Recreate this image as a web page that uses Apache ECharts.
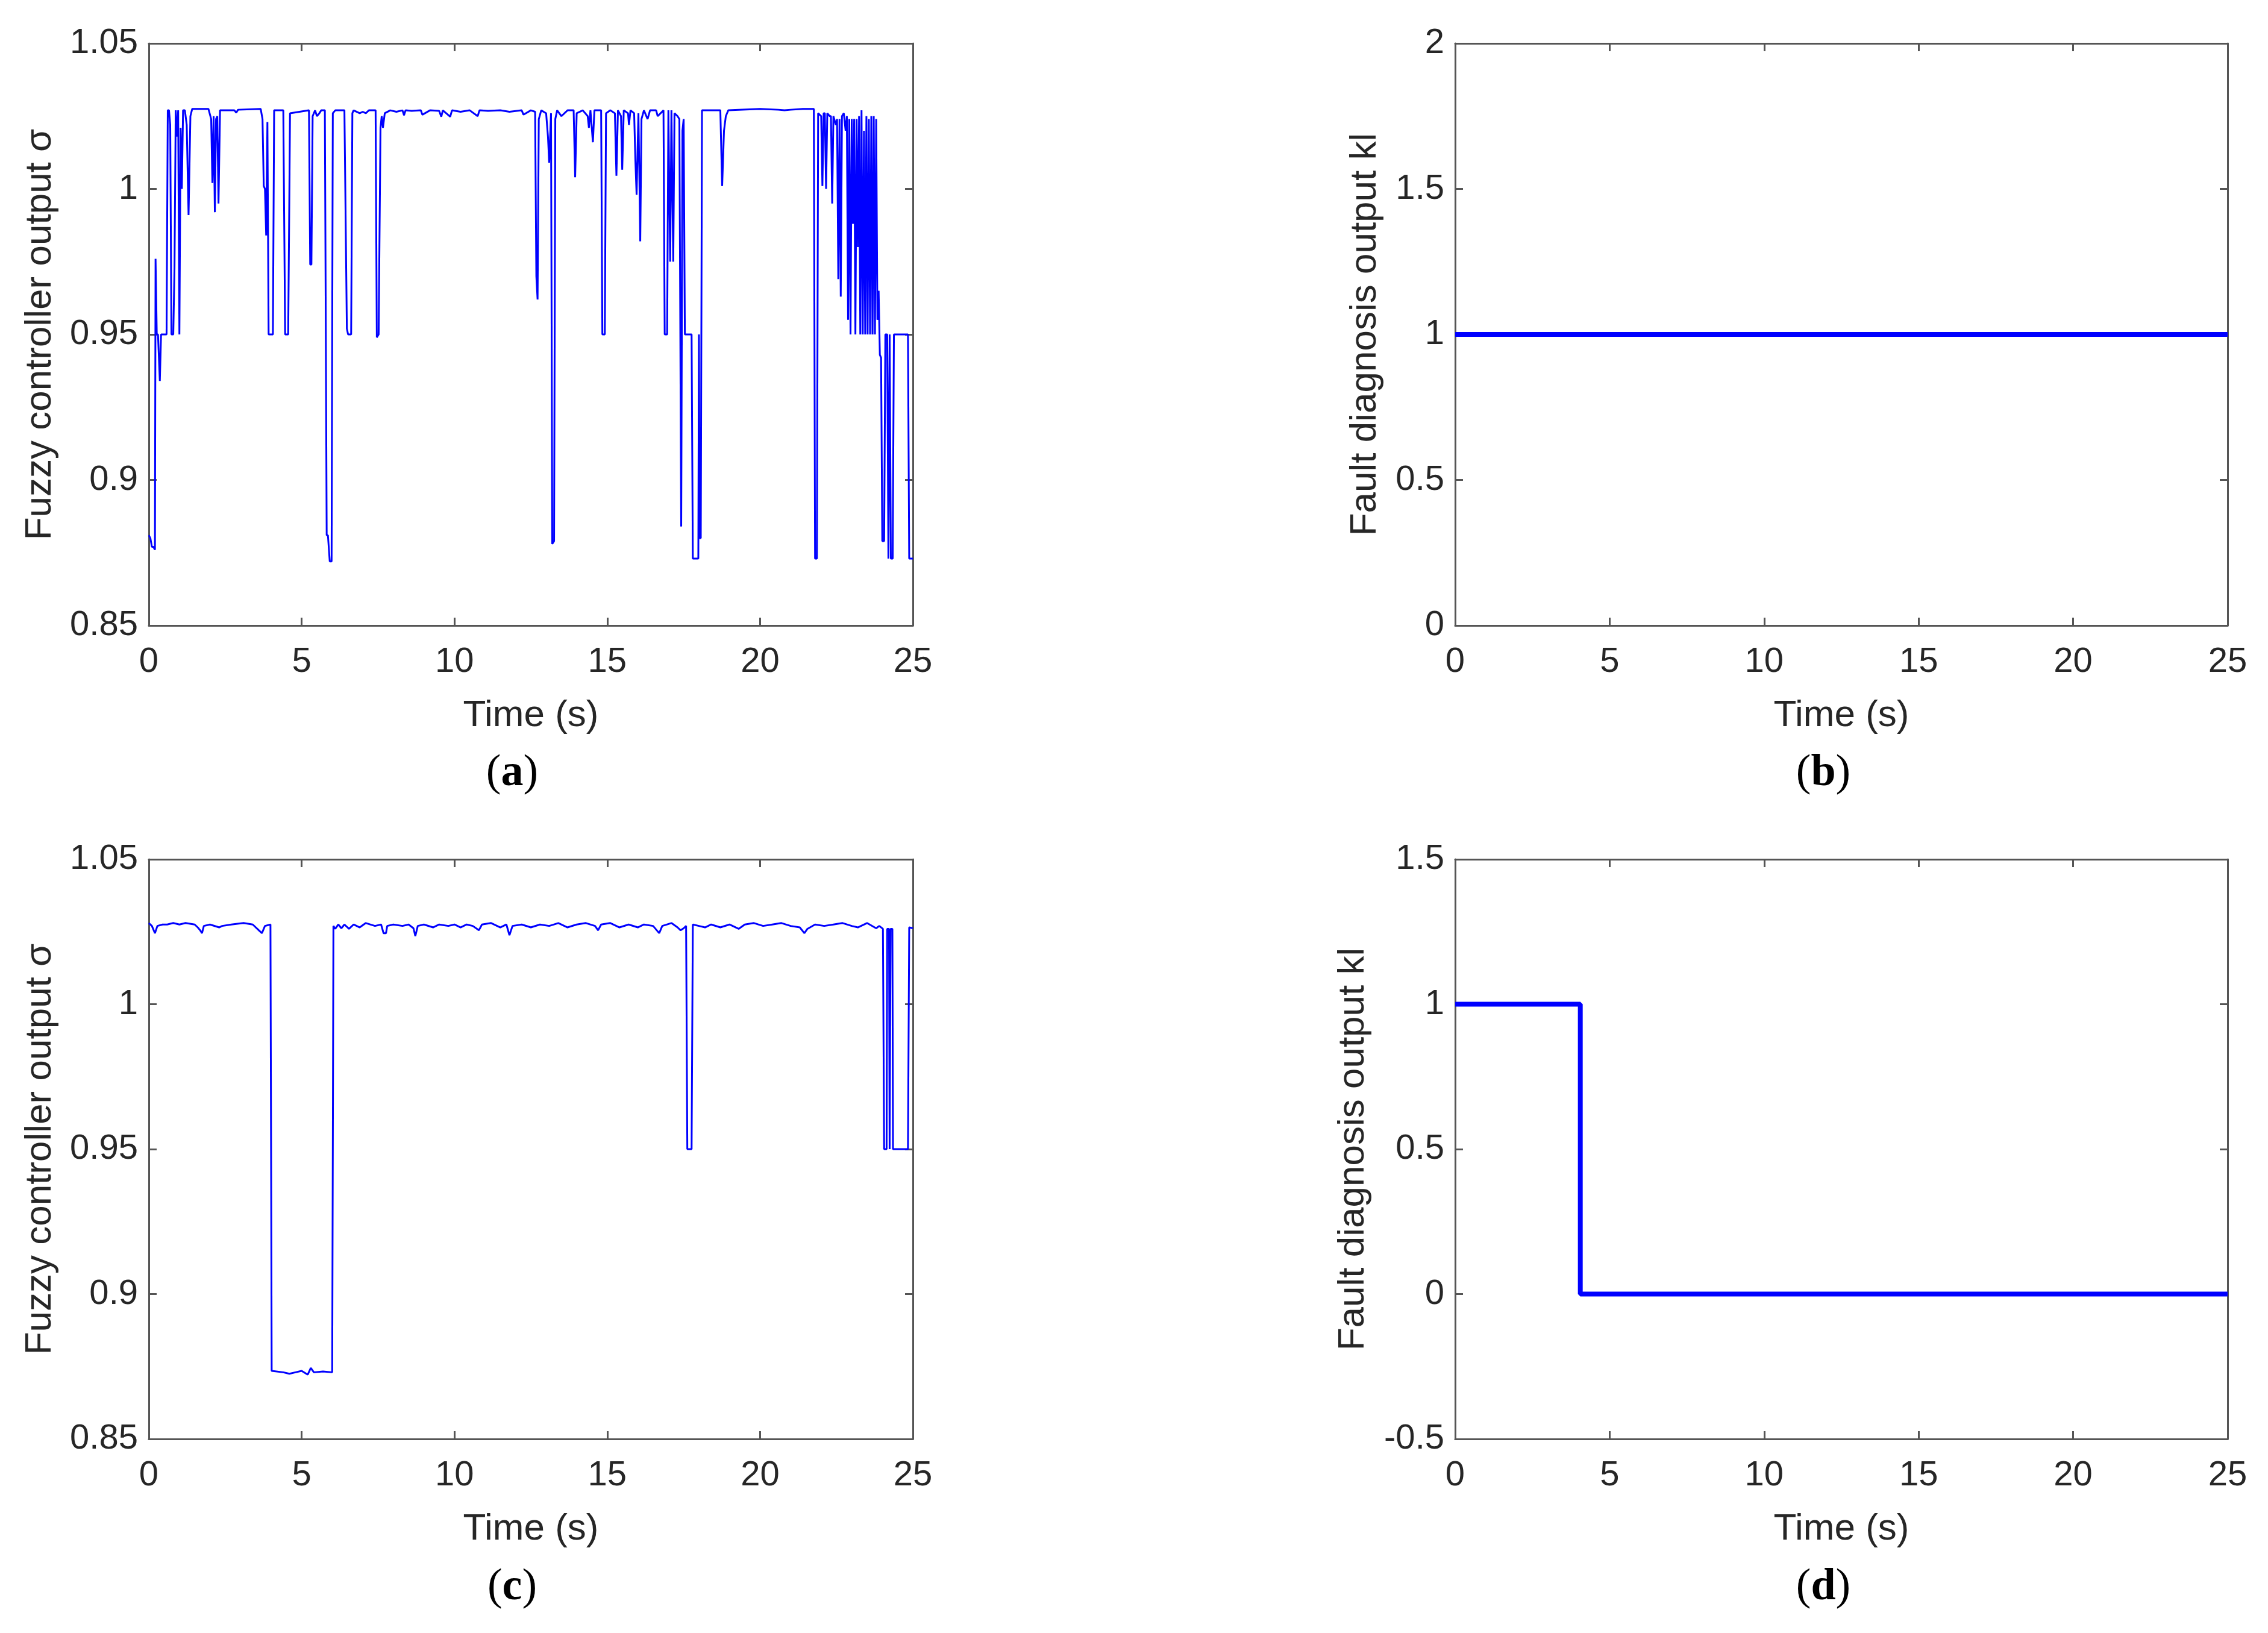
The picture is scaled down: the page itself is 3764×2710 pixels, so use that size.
<!DOCTYPE html>
<html>
<head>
<meta charset="utf-8">
<script src="https://cdn.jsdelivr.net/npm/echarts@6/dist/echarts.min.js"></script>
<style>
html,body{margin:0;padding:0;background:#fff;}
#chart{width:3764px;height:2710px;}
</style>
</head>
<body>
<div id="chart"></div>
<script>
// ---------- DATA ----------
// Panel (a): fuzzy controller output sigma, normal case
var timeA = [0.00,0.05,0.10,0.15,0.20,0.22,0.26,0.30,0.36,0.40,0.58,0.62,0.66,0.70,0.74,0.80,0.84,0.88,0.92,0.96,1.00,1.04,1.08,1.12,1.18,1.24,1.30,1.36,1.42,1.95,2.04,2.08,2.12,2.16,2.20,2.24,2.28,2.33,2.80,2.86,2.92,3.66,3.72,3.76,3.80,3.84,3.88,3.92,4.06,4.10,4.40,4.46,4.56,4.62,5.24,5.28,5.32,5.36,5.44,5.50,5.58,5.64,5.76,5.82,5.86,5.92,5.98,6.02,6.10,6.40,6.48,6.52,6.62,6.66,6.70,6.90,7.00,7.10,7.20,7.42,7.46,7.52,7.58,7.62,7.66,7.72,7.90,8.10,8.30,8.35,8.40,8.60,8.90,8.95,9.20,9.50,9.57,9.62,9.86,9.92,10.20,10.50,10.76,10.82,11.10,11.50,11.80,12.20,12.26,12.50,12.64,12.68,12.72,12.76,12.84,13.00,13.06,13.10,13.16,13.20,13.26,13.30,13.36,13.50,13.70,13.90,13.95,14.00,14.20,14.36,14.40,14.45,14.53,14.58,14.80,14.84,14.92,14.96,15.10,15.25,15.30,15.35,15.45,15.49,15.54,15.68,15.71,15.76,15.88,15.92,15.96,16.02,16.06,16.08,16.12,16.20,16.32,16.40,16.60,16.65,16.84,16.88,16.96,17.00,17.06,17.10,17.16,17.20,17.30,17.36,17.42,17.46,17.50,17.54,17.76,17.80,17.98,18.00,18.02,18.06,18.10,18.70,18.76,18.82,18.88,18.96,20.00,20.60,20.80,21.00,21.40,21.76,21.80,21.86,21.90,22.00,22.04,22.08,22.12,22.16,22.20,22.28,22.32,22.36,22.40,22.48,22.52,22.56,22.60,22.64,22.68,22.74,22.80,22.84,22.88,22.92,22.96,23.00,23.04,23.08,23.12,23.16,23.20,23.24,23.28,23.32,23.36,23.40,23.44,23.48,23.52,23.56,23.60,23.64,23.68,23.72,23.76,23.80,23.84,23.88,23.92,23.96,24.00,24.06,24.10,24.16,24.20,24.24,24.28,24.34,24.38,24.84,24.88,25.00];
var sigmaA = [0.881,0.880,0.877,0.877,0.876,0.976,0.950,0.950,0.934,0.950,0.950,1.027,1.027,1.022,0.950,0.950,0.973,1.027,1.018,1.027,0.950,1.021,1.000,1.027,1.027,1.022,0.991,1.025,1.0275,1.0275,1.024,1.002,1.025,0.992,1.024,1.025,0.995,1.027,1.027,1.0262,1.0272,1.0275,1.024,1.001,1.000,0.984,1.023,0.950,0.950,1.027,1.027,0.950,0.950,1.026,1.027,0.974,0.974,1.025,1.027,1.025,1.026,1.027,1.027,0.881,0.881,0.872,0.872,1.026,1.027,1.027,0.952,0.950,0.950,1.026,1.027,1.026,1.0265,1.026,1.027,1.027,0.949,0.950,1.021,1.025,1.021,1.026,1.027,1.0265,1.027,1.0253,1.027,1.0268,1.027,1.0255,1.027,1.0268,1.0248,1.027,1.0248,1.027,1.0265,1.027,1.0250,1.027,1.0268,1.027,1.0265,1.027,1.0255,1.027,1.0265,0.970,0.962,1.024,1.027,1.026,1.018,1.009,1.026,0.878,0.879,1.024,1.027,1.025,1.027,1.027,1.004,1.026,1.027,1.025,1.021,1.027,1.016,1.027,1.027,0.950,0.950,1.026,1.027,1.026,1.0045,1.027,1.025,1.0066,1.027,1.026,1.022,1.027,1.026,1.010,0.998,1.026,0.998,0.982,1.024,1.027,1.024,1.027,1.027,1.025,1.027,0.950,0.950,1.027,0.975,1.027,0.975,1.026,1.025,1.024,0.884,1.020,1.024,0.950,0.950,0.873,0.873,0.950,0.880,0.880,1.027,1.027,1.001,1.020,1.025,1.027,1.0275,1.0272,1.027,1.0272,1.0275,1.0275,0.873,0.873,1.026,1.025,1.001,1.026,1.026,1.000,1.026,1.025,1.025,0.995,1.025,1.022,1.024,0.969,1.024,0.963,1.025,1.026,1.020,1.025,0.955,1.024,0.950,1.024,0.988,1.024,0.950,1.024,0.980,1.025,0.950,1.027,0.950,1.020,0.950,1.025,0.950,1.024,0.950,1.025,0.950,1.025,0.950,1.024,0.955,0.965,0.943,0.942,0.879,0.879,0.950,0.950,0.873,0.950,0.873,0.873,0.950,0.950,0.873,0.873];

// Panel (b): fault diagnosis output kl, normal case
var timeB = [0, 25];
var klB = [1, 1];

// Panel (c): fuzzy controller output sigma, fault case
var timeC = [0.00,0.10,0.20,0.28,0.45,0.60,0.80,1.00,1.20,1.50,1.60,1.68,1.74,1.80,2.00,2.30,2.40,2.70,3.10,3.40,3.60,3.70,3.80,3.98,4.02,4.40,4.60,4.80,5.00,5.20,5.30,5.40,5.70,6.00,6.04,6.10,6.20,6.30,6.40,6.55,6.70,6.90,7.10,7.40,7.60,7.68,7.76,7.80,8.00,8.30,8.50,8.66,8.72,8.80,9.00,9.30,9.50,9.80,10.00,10.20,10.40,10.60,10.80,10.90,11.20,11.50,11.70,11.80,11.90,12.20,12.50,12.80,13.10,13.40,13.70,14.00,14.30,14.60,14.70,14.80,15.10,15.40,15.70,16.00,16.20,16.50,16.70,16.80,17.10,17.30,17.40,17.50,17.58,17.62,17.76,17.80,18.00,18.20,18.40,18.70,19.00,19.30,19.50,19.80,20.10,20.40,20.70,21.00,21.30,21.45,21.55,21.80,22.10,22.40,22.70,23.00,23.20,23.50,23.80,23.90,24.02,24.06,24.14,24.16,24.22,24.24,24.27,24.33,24.35,24.84,24.88,25.00];
var sigmaC = [1.028,1.027,1.0245,1.027,1.0275,1.0275,1.028,1.0275,1.028,1.0275,1.0265,1.0255,1.0245,1.027,1.0275,1.0265,1.027,1.0275,1.028,1.0275,1.0255,1.0245,1.027,1.0275,0.8735,0.873,0.8725,0.873,0.8735,0.8722,0.8745,0.873,0.8733,0.873,1.027,1.026,1.0275,1.0262,1.0275,1.026,1.0275,1.0265,1.028,1.027,1.0275,1.0245,1.0245,1.027,1.0275,1.027,1.0275,1.0262,1.0235,1.027,1.0275,1.0265,1.0275,1.027,1.0275,1.0265,1.0275,1.027,1.0255,1.0275,1.028,1.0265,1.0275,1.0238,1.027,1.0275,1.0265,1.0275,1.027,1.028,1.0265,1.0275,1.028,1.027,1.0255,1.0275,1.028,1.0265,1.0275,1.0265,1.0275,1.027,1.0245,1.027,1.028,1.0265,1.0255,1.0262,1.027,0.950,0.950,1.0275,1.027,1.0265,1.0275,1.0265,1.0275,1.026,1.0275,1.028,1.027,1.0275,1.028,1.027,1.0265,1.0245,1.026,1.0275,1.027,1.0275,1.028,1.027,1.0265,1.028,1.0262,1.027,1.026,0.950,0.950,1.026,1.026,0.950,1.026,1.026,0.950,0.950,1.0265,1.0262];

// Panel (d): fault diagnosis output kl, fault case
var timeD = [0, 4.05, 4.05, 25];
var klD = [1, 1, 0, 0];

// Axis tick settings (values)
var timeTicks = {min: 0, max: 25, interval: 5};
var sigmaTicks = {min: 0.85, max: 1.05, interval: 0.05};
var klTicksB = {min: 0, max: 2, interval: 0.5};
var klTicksD = {min: -0.5, max: 1.5, interval: 0.5};

var xName = 'Time (s)';
var sigmaName = 'Fuzzy controller output σ';
var klName = 'Fault diagnosis output kl';
var captions = ['a', 'b', 'c', 'd'];

// ---------- BUILD ----------
function zip(xs, ys) { return xs.map(function (x, i) { return [x, ys[i]]; }); }
function fmt(v) { return String(parseFloat(v.toFixed(3))); }

var AXIS_COLOR = '#555555';
var LABEL_COLOR = '#262626';
var FONT = 'Liberation Sans, Arial, sans-serif';
var TICK_FS = 58, NAME_FS = 62;

var grids = [
  {left: 247, top: 72, width: 1268, height: 966},
  {left: 2415, top: 72, width: 1282, height: 966},
  {left: 247, top: 1426, width: 1268, height: 962},
  {left: 2415, top: 1426, width: 1282, height: 962}
];
var yTicks = [sigmaTicks, klTicksB, sigmaTicks, klTicksD];
var yNames = [sigmaName, klName, sigmaName, klName];
var yNameGaps = [149, 118, 149, 138];
var seriesData = [zip(timeA, sigmaA), zip(timeB, klB), zip(timeC, sigmaC), zip(timeD, klD)];
var lineWidths = [3, 8, 3, 8];

var xAxes = [], yAxes = [], series = [];
grids.forEach(function (g, i) {
  var lineStyle = {lineStyle: {color: AXIS_COLOR, width: 3}};
  var tick = {show: true, inside: true, length: 13, lineStyle: {color: AXIS_COLOR, width: 3}};
  xAxes.push({
    type: 'value', gridIndex: i, position: 'bottom',
    min: timeTicks.min, max: timeTicks.max, interval: timeTicks.interval,
    axisLine: Object.assign({show: true, onZero: false}, lineStyle),
    axisTick: tick, splitLine: {show: false},
    axisLabel: {show: true, margin: 32, color: LABEL_COLOR, fontSize: TICK_FS, fontFamily: FONT, formatter: fmt},
    name: xName, nameLocation: 'middle', nameGap: 119,
    nameTextStyle: {color: LABEL_COLOR, fontSize: NAME_FS, fontFamily: FONT}
  });
  xAxes.push({
    type: 'value', gridIndex: i, position: 'top',
    min: timeTicks.min, max: timeTicks.max, interval: timeTicks.interval,
    axisLine: Object.assign({show: true, onZero: false}, lineStyle),
    axisTick: tick, splitLine: {show: false}, axisLabel: {show: false}
  });
  var yt = yTicks[i];
  yAxes.push({
    type: 'value', gridIndex: i, position: 'left',
    min: yt.min, max: yt.max, interval: yt.interval,
    axisLine: Object.assign({show: true, onZero: false}, lineStyle),
    axisTick: tick, splitLine: {show: false},
    axisLabel: {show: true, margin: 18, color: LABEL_COLOR, fontSize: TICK_FS, fontFamily: FONT, formatter: fmt},
    name: yNames[i], nameLocation: 'middle', nameGap: yNameGaps[i],
    nameTextStyle: {color: LABEL_COLOR, fontSize: NAME_FS, fontFamily: FONT}
  });
  yAxes.push({
    type: 'value', gridIndex: i, position: 'right',
    min: yt.min, max: yt.max, interval: yt.interval,
    axisLine: Object.assign({show: true, onZero: false}, lineStyle),
    axisTick: tick, splitLine: {show: false}, axisLabel: {show: false}
  });
  series.push({
    type: 'line', xAxisIndex: i * 2, yAxisIndex: i * 2,
    data: seriesData[i], showSymbol: false, symbol: 'none',
    lineStyle: {color: '#0000ff', width: lineWidths[i]},
    clip: true, silent: true
  });
});

var capPos = [[850, 1284], [3026, 1284], [850, 2635], [3026, 2635]];
var graphics = captions.map(function (c, i) {
  return {
    type: 'text', x: capPos[i][0], y: capPos[i][1],
    style: {
      text: '{p|(}{b|' + c + '}{p|)}',
      align: 'center', verticalAlign: 'middle',
      rich: {
        p: {fontSize: 74, fontFamily: 'Liberation Serif, Times New Roman, serif', fill: '#000'},
        b: {fontSize: 74, fontWeight: 'bold', fontFamily: 'Liberation Serif, Times New Roman, serif', fill: '#000'}
      }
    }
  };
});

var chart = echarts.init(document.getElementById('chart'), null, {renderer: 'canvas'});
chart.setOption({
  animation: false,
  backgroundColor: '#ffffff',
  grid: grids.map(function (g) { return Object.assign({containLabel: false}, g); }),
  xAxis: xAxes,
  yAxis: yAxes,
  series: series,
  graphic: graphics
});
</script>
</body>
</html>
